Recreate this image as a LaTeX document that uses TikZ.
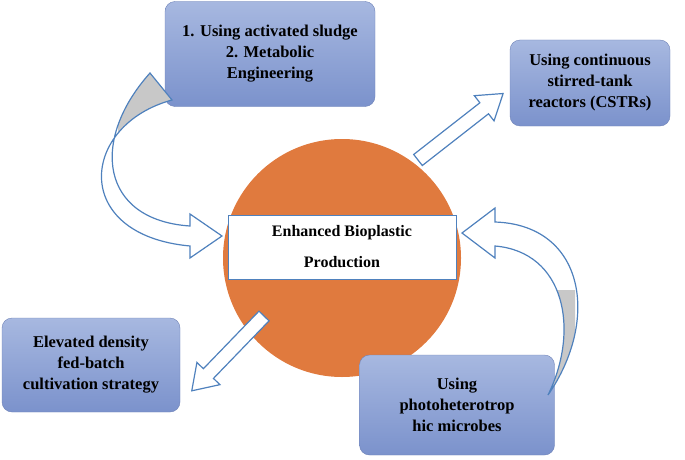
\documentclass[tikz,border=0pt]{standalone}
\usepackage{fontspec}
\setmainfont{Liberation Serif}
\definecolor{bl}{HTML}{4F81BD}
\definecolor{bxt}{HTML}{A7B8E0}
\definecolor{bxb}{HTML}{7B92CC}
\definecolor{orn}{HTML}{E07A3E}
\definecolor{gr}{HTML}{C8C8C8}
\begin{document}
\begin{tikzpicture}[x=1pt,y=-1pt,
  box/.style={draw=bxb!90!black,rounded corners=10pt,top color=bxt,bottom color=bxb,align=center,font=\bfseries\fontsize{16.5}{21}\selectfont,inner sep=0pt},
  crv/.style={draw=bl,line width=1.2pt}]
\useasboundingbox (0,0) rectangle (685,460);
\node[circle,fill=orn,minimum size=238pt,inner sep=0pt] (c) at (342,258) {};
\node[draw=bl,line width=1pt,fill=white,minimum width=228pt,minimum height=64pt,align=center,font=\bfseries\fontsize{16}{31}\selectfont] (t) at (342,247) {Enhanced Bioplastic\\Production};
\node[box,minimum width=210pt,minimum height=105pt] (b1) at (270,54) {1. Using activated sludge\\2. Metabolic\\Engineering};
\node[box,minimum width=160pt,minimum height=86pt] (b2) at (590,83) {Using continuous\\stirred-tank\\reactors (CSTRs)};
\node[box,minimum width=178pt,minimum height=94pt] (b3) at (91,365) {Elevated density\\fed-batch\\cultivation strategy};
\node[box,minimum width=195pt,minimum height=100pt] (b4) at (457,405) {Using\\photoheterotrop\\hic microbes};
\begin{scope}[shift={(418,160)},rotate=38]
\draw[crv,fill=white] (0,-7) -- (84,-7) -- (84,-16) -- (108,0) -- (84,16) -- (84,7) -- (0,7) -- cycle;
\end{scope}
\begin{scope}[shift={(264,316)},rotate=-134]
\draw[crv,fill=white] (0,-7) -- (80,-7) -- (80,-16) -- (104,0) -- (80,16) -- (80,7) -- (0,7) -- cycle;
\end{scope}
% curved top-left
\def\pa{(172,100) .. controls (80,125) and (70,235) .. (190,246) -- (190,258) -- (222,236) -- (190,214) -- (190,226) .. controls (100,220) and (90,140) .. (150,73) -- cycle}
\fill[white] \pa;
\begin{scope}\clip (118,0) rectangle (200,150); \fill[gr] \pa; \end{scope}
\draw[crv] \pa;
% curved bottom-right
\def\pb{(548,395) .. controls (580,330) and (565,252) .. (495,246) -- (495,258) -- (462,233) -- (495,208) -- (495,222) .. controls (585,225) and (600,320) .. (548,395) -- cycle}
\fill[white] \pb;
\begin{scope}\clip (500,290) rectangle (575,460); \fill[gr] \pb; \end{scope}
\draw[crv] \pb;
\end{tikzpicture}
\end{document}
